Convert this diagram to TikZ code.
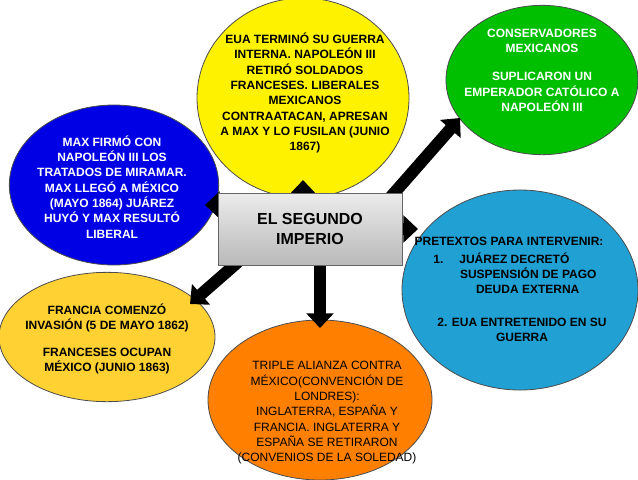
\documentclass[tikz,border=0pt]{standalone}
\usepackage{fontspec}
\setmainfont{Liberation Sans}
\usetikzlibrary{arrows.meta,shapes.geometric}
\begin{document}
\begin{tikzpicture}[x=0.75pt,y=-0.75pt,
  ell/.style={ellipse,draw=black!70,line width=0.6pt,inner sep=0pt},
  txt/.style={align=center,font=\bfseries\fontsize{9}{11.5}\selectfont},
  blk/.style={line width=9pt,-{Triangle[width=20pt,length=11pt]}}]
\useasboundingbox (0,0) rectangle (638,479);
\node[ell,fill=yellow,minimum width=159pt,minimum height=150pt] (top) at (303,98) {};
\node[ell,fill=green!75!black,minimum width=144pt,minimum height=112pt] (gr) at (542,80) {};
\node[ell,fill=blue!90!black,minimum width=157pt,minimum height=120pt] (bl) at (114,185) {};
\node[ell,fill=cyan!70!teal,minimum width=177pt,minimum height=150pt] (te) at (520,290) {};
\node[ell,fill=orange!45!yellow!80!white,minimum width=162pt,minimum height=97pt] (tan) at (107,337) {};
\node[ell,fill=orange,minimum width=168pt,minimum height=120pt] (or) at (320,400) {};
\draw[blk] (303,194) -- (303,180);
\draw[blk] (395,229) -- (418,229);
\draw[blk] (388,200) -- (460,118);
\draw[blk] (320,255) -- (320,328);
\draw[blk] (238,262) -- (190,304);
\draw[blk] (225,205) -- (205,205);
\node[draw=black!60,top color=gray!15,bottom color=gray!55,minimum width=138pt,minimum height=54pt,txt,font=\bfseries\fontsize{12}{15}\selectfont] (c) at (310,229) {EL SEGUNDO\\IMPERIO};
\node[txt] at (305,93) {EUA TERMINÓ SU GUERRA\\INTERNA. NAPOLEÓN III\\RETIRÓ SOLDADOS\\FRANCESES. LIBERALES\\MEXICANOS\\CONTRAATACAN, APRESAN\\A MAX Y LO FUSILAN (JUNIO\\1867)};
\node[txt,text=white] at (542,41) {CONSERVADORES\\MEXICANOS};
\node[txt,text=white] at (542,92) {SUPLICARON UN\\EMPERADOR CATÓLICO A\\NAPOLEÓN III};
\node[txt,text=white] at (112,187) {MAX FIRMÓ CON\\NAPOLEÓN III LOS\\TRATADOS DE MIRAMAR.\\MAX LLEGÓ A MÉXICO\\(MAYO 1864) JUÁREZ\\HUYÓ Y MAX RESULTÓ\\LIBERAL};
\node[txt,align=left,anchor=north west] at (410,232) {PRETEXTOS PARA INTERVENIR:\\[2pt]
\hspace*{14pt}1.\hspace{12pt}JUÁREZ DECRETÓ\\\hspace*{34pt}SUSPENSIÓN DE PAGO\\\hspace*{46pt}DEUDA EXTERNA};
\node[txt] at (522,330) {2. EUA ENTRETENIDO EN SU\\GUERRA};
\node[txt] at (107,318) {FRANCIA COMENZÓ\\INVASIÓN (5 DE MAYO 1862)};
\node[txt] at (107,361) {FRANCESES OCUPAN\\MÉXICO (JUNIO 1863)};
\node[txt,font=\fontsize{9}{11.5}\selectfont] at (327,413) {TRIPLE ALIANZA CONTRA\\MÉXICO(CONVENCIÓN DE\\LONDRES):\\INGLATERRA, ESPAÑA Y\\FRANCIA. INGLATERRA Y\\ESPAÑA SE RETIRARON\\(CONVENIOS DE LA SOLEDAD)};
\end{tikzpicture}
\end{document}
